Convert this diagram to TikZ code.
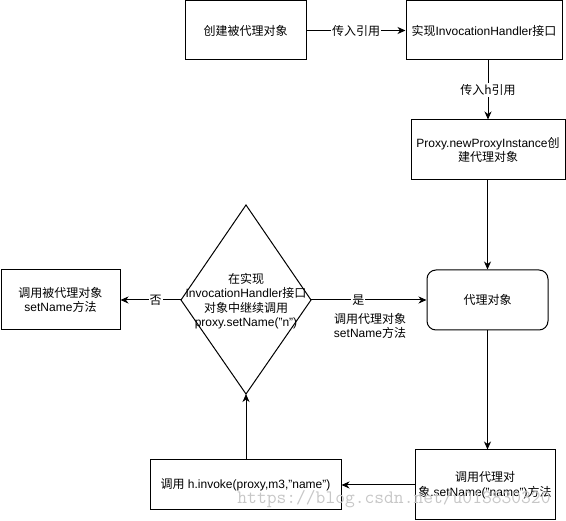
\documentclass[tikz,border=0pt]{standalone}
\usepackage{fontspec}
\setmainfont{Liberation Sans}
\newfontfamily\cjk{Noto Sans CJK SC}
\usetikzlibrary{arrows.meta}
\newcommand\zhtxt[1]{{\cjk #1}}
\tikzset{
  box/.style={draw=black, line width=1pt, rectangle, align=center, inner sep=1pt},
  arr/.style={draw=black, line width=1pt, -{Stealth[length=8pt,width=7pt,inset=2.5pt]}},
  lbl/.style={fill=white, inner sep=1pt, align=center},
  txt/.style={align=center, inner sep=0pt},
}
\begin{document}
\begin{tikzpicture}[x=1pt, y=-1pt, font=\fontsize{12}{14.5}\selectfont]
\useasboundingbox (0,0) rectangle (566,521);
% boxes
\node[box, minimum width=121pt, minimum height=59pt] (b1) at (245.5,30.5) {\zhtxt{创建被代理对象}};
\node[box, minimum width=156pt, minimum height=59pt] (b2) at (484,30.5) {\zhtxt{实现}InvocationHandler\zhtxt{接口}};
\node[box, minimum width=154pt, minimum height=60pt] (b3) at (488,150) {Proxy.newProxyInstance\zhtxt{创}\\\zhtxt{建代理对象}};
\node[box, rounded corners=9pt, minimum width=121pt, minimum height=60pt] (po) at (487.5,300) {\zhtxt{代理对象}};
\node[box, minimum width=119pt, minimum height=60pt] (lf) at (60.5,300) {\zhtxt{调用被代理对象}\\setName\zhtxt{方法}};
\node[box, minimum width=191pt, minimum height=50pt] (bl) at (245.5,485) {\zhtxt{调用} h.invoke(proxy,m3,"name")};
\node[box, minimum width=140pt, minimum height=70pt] (br) at (485,485) {\zhtxt{调用代理对}\\\zhtxt{象}.setName("name")\zhtxt{方法}};
% diamond
\coordinate (dt) at (246,205);
\coordinate (dr) at (311,300);
\coordinate (db) at (246,394);
\coordinate (dl) at (181,300);
\draw[line width=1pt] (dt) -- (dr) -- (db) -- (dl) -- cycle;
\node[txt] (dtext) at (246,301) {\zhtxt{在实现}\\InvocationHandler\zhtxt{接口}\\\zhtxt{对象中继续调用}\\proxy.setName("n")};
% connectors
\draw[arr] (b1.east) -- node[lbl] (l1) {\zhtxt{传入引用}} (b2.west);
\draw[arr] (b3.north |- b2.south) -- node[lbl] (l2) {\zhtxt{传入h引用}} (b3.north);
\draw[arr] (b3.south -| po.north) -- (po.north);
\draw[arr] (po.south) -- (po.south |- br.north);
\draw[arr] (br.west) -- (br.west -| bl.east);
\draw[arr] (bl.north -| db) -- (db);
\draw[arr] (dl) -- node[lbl, pos=0.42] (l3) {\zhtxt{否}} (lf.east);
\draw[arr] (dr) -- node[lbl, pos=0.41] (l4) {\zhtxt{是}} (po.west);
\node[txt] (l5) at (370,326) {\zhtxt{调用代理对象}\\setName\zhtxt{方法}};
% watermark
\node[txt, text=black!22, font=\ttfamily\fontsize{19}{19}\selectfont] (wm) at (394,499) {https://blog.csdn.net/u013830320};
\end{tikzpicture}
\end{document}
